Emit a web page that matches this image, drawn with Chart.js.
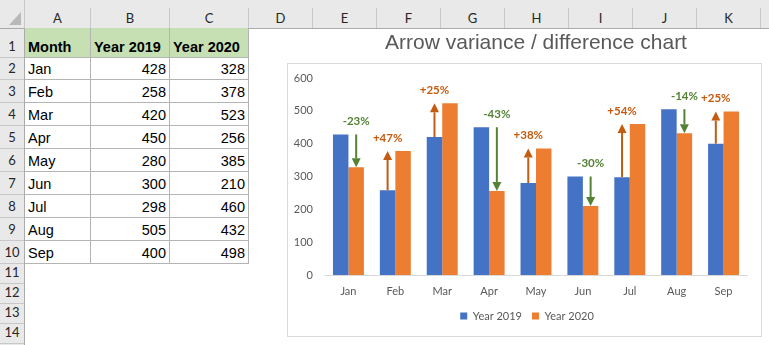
<!DOCTYPE html>
<html>
<head>
<meta charset="utf-8">
<script src="https://cdn.jsdelivr.net/npm/chart.js@4.4.0/dist/chart.umd.min.js"></script>
<style>
body{margin:0;width:769px;height:345px;overflow:hidden;background:#fff;position:relative;font-family:"Liberation Sans",Arial,sans-serif}
.abs{position:absolute;box-sizing:border-box}
.hd{font:13px Lato,sans-serif;color:#262626;text-align:center}
.cell{font-size:14.5px;color:#000;display:flex;align-items:flex-end;padding:0 3px 2px 3px;white-space:nowrap}
#chartBox{position:absolute;left:287px;top:28px;width:500px;height:317px}
</style>
</head>
<body>
<div id="sheet"></div>
<div id="chartBox"><canvas id="myChart" width="500" height="317"></canvas></div>
<script>
var months = ["Jan", "Feb", "Mar", "Apr", "May", "Jun", "Jul", "Aug", "Sep"];
var year2019 = [428, 258, 420, 450, 280, 300, 298, 505, 400];
var year2020 = [328, 378, 523, 256, 385, 210, 460, 432, 498];
var seriesNames = ["Year 2019", "Year 2020"];
var yMin = 0, yMax = 600, yStep = 100;

// sheet layout (pixels)
var colLetters = ["A", "B", "C", "D", "E", "F", "G", "H", "I", "J", "K", "L"];
var colEdges = [25, 91, 170, 249, 313, 377, 441, 505, 569, 633, 697, 761, 825];
var rowEdges = [28, 57, 79, 102, 125, 148, 171, 194, 217, 240, 263, 283, 303, 323, 343, 363];

var sheet = document.getElementById("sheet");
function box(l, t, w, h, cls, css, txt) {
    var d = document.createElement("div");
    d.className = "abs " + (cls || "");
    d.style.cssText = "left:" + l + "px;top:" + t + "px;width:" + w + "px;height:" + h + "px;" + (css || "");
    if (txt !== undefined) d.textContent = txt;
    sheet.appendChild(d);
    return d;
}

// headers
box(0, 0, 769, 29, "", "background:#e9e9e9;border-bottom:1px solid #ababab");
box(0, 28, 25, 317, "", "background:#e9e9e9;border-right:1px solid #ababab");
box(0, 0, 25, 29, "", "border-right:1px solid #c8c8c8;border-bottom:1px solid #ababab");
box(9, 12, 12, 13, "", "background:#b8b8b8;clip-path:polygon(100% 0,100% 100%,0 100%)");
for (var i = 0; i < colLetters.length; i++) {
    box(colEdges[i], 8, colEdges[i + 1] - colEdges[i], 20, "hd",
        "border-right:1px solid #c8c8c8;line-height:21px", colLetters[i]);
}
for (var r = 0; r < rowEdges.length - 1; r++) {
    box(0, rowEdges[r], 24, rowEdges[r + 1] - rowEdges[r] + 1, "hd",
        "border-bottom:1px solid #c8c8c8;display:flex;align-items:flex-end;justify-content:center;padding-bottom:3px", String(r + 1));
}

// table A1:C10
var tableRows = [["Month"].concat(seriesNames)];
for (var i = 0; i < months.length; i++) {
    tableRows.push([months[i], year2019[i], year2020[i]]);
}
for (var r = 0; r < tableRows.length; r++) {
    for (var c = 0; c < 3; c++) {
        var css = "border-right:1px solid #b4b4b4;border-bottom:1px solid #b4b4b4;";
        if (r == 0) css += "background:#c6e0b4;font-weight:bold;";
        if (r > 0 && c > 0) css += "justify-content:flex-end;";
        box(colEdges[c], rowEdges[r], colEdges[c + 1] - colEdges[c], rowEdges[r + 1] - rowEdges[r] + 1,
            "cell", css, String(tableRows[r][c]));
    }
}

// chart
var upColor = "#c55a11";
var downColor = "#548235";

var framePlugin = {
    id: "frame",
    afterLayout: function(chart) {
        // let the y labels use the room left of the axis without moving the legend
        chart.scales.y.left = 0;
    },
    beforeDraw: function(chart) {
        var c = chart.ctx;
        c.save();
        c.strokeStyle = "#d9d9d9";
        c.lineWidth = 1;
        c.strokeRect(0.5, 35.5, 474, 273);
        c.restore();
    }
};

var arrowPlugin = {
    id: "arrows",
    afterDatasetsDraw: function(chart) {
        var c = chart.ctx;
        var ys = chart.scales.y;
        var m0 = chart.getDatasetMeta(0), m1 = chart.getDatasetMeta(1);
        for (var i = 0; i < months.length; i++) {
            var a = year2019[i], b = year2020[i];
            var up = b > a;
            var x = up ? m0.data[i].x : m1.data[i].x;
            var y0 = ys.getPixelForValue(a), y1 = ys.getPixelForValue(b);
            var col = up ? upColor : downColor;
            var dir = up ? 1 : -1;
            var headLen = 9, headW = 4.5;
            c.save();
            c.strokeStyle = col;
            c.fillStyle = col;
            c.lineWidth = 2;
            c.beginPath();
            c.moveTo(x, y0);
            c.lineTo(x, y1 + dir * headLen);
            c.stroke();
            c.beginPath();
            c.moveTo(x, y1);
            c.lineTo(x - headW, y1 + dir * headLen);
            c.lineTo(x + headW, y1 + dir * headLen);
            c.closePath();
            c.fill();
            var pct = Math.round((b - a) / a * 100);
            c.font = "bold 11.5px Lato";
            c.textAlign = "center";
            c.textBaseline = "middle";
            c.fillText((pct > 0 ? "+" : "") + pct + "%", x, ys.getPixelForValue(Math.max(a, b)) - 13);
            c.restore();
        }
    }
};

var ctx = document.getElementById("myChart");
var myBarChart = new Chart(ctx, {
    type: "bar",
    data: {
        labels: months,
        datasets: [
            {
                label: seriesNames[0],
                data: year2019,
                backgroundColor: "#4472c4",
                categoryPercentage: 0.66,
                barPercentage: 1
            },
            {
                label: seriesNames[1],
                data: year2020,
                backgroundColor: "#ed7d31",
                categoryPercentage: 0.66,
                barPercentage: 1
            }
        ]
    },
    options: {
        responsive: false,
        animation: false,
        layout: {padding: {left: 20, right: 40, top: 0, bottom: 13.5}},
        plugins: {
            title: {
                display: true,
                text: "Arrow variance / difference chart",
                fullSize: false,
                color: "#595959",
                font: {family: "'Liberation Sans', Arial", size: 21, weight: "normal"},
                padding: {top: 2.4, bottom: 22.4}
            },
            legend: {
                position: "bottom",
                labels: {boxWidth: 7, boxHeight: 7, padding: 10, color: "#595959", font: {family: "Lato", size: 11}}
            },
            tooltip: {enabled: false}
        },
        scales: {
            x: {
                grid: {display: false},
                border: {color: "#d9d9d9"},
                ticks: {color: "#595959", font: {family: "Lato", size: 11}, padding: 2},
                afterFit: function(s) { s.height = 25.5; }
            },
            y: {
                min: yMin,
                max: yMax,
                grid: {display: false},
                border: {display: false},
                ticks: {stepSize: yStep, color: "#595959", font: {family: "Lato", size: 11}, padding: 4},
                afterFit: function(s) { s.width = 18; }
            }
        }
    },
    plugins: [framePlugin, arrowPlugin]
});
</script>
</body>
</html>
